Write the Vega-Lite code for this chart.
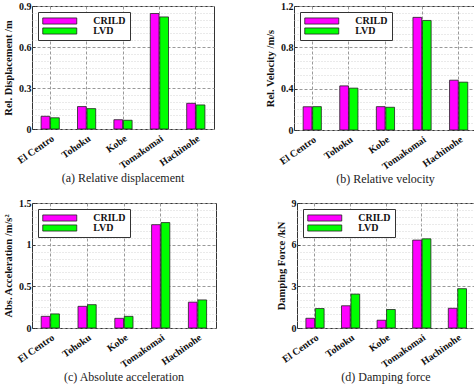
{
  "$schema": "https://vega.github.io/schema/vega-lite/v6.json",
  "padding": {"left": 3, "top": 0, "right": 0, "bottom": 0},
  "datasets": {
    "d": [
      {"panel": "a", "quake": "El Centro", "type": "CRILD", "value": 0.093},
      {"panel": "a", "quake": "El Centro", "type": "LVD", "value": 0.082},
      {"panel": "a", "quake": "Tohoku", "type": "CRILD", "value": 0.164},
      {"panel": "a", "quake": "Tohoku", "type": "LVD", "value": 0.149},
      {"panel": "a", "quake": "Kobe", "type": "CRILD", "value": 0.068},
      {"panel": "a", "quake": "Kobe", "type": "LVD", "value": 0.064},
      {"panel": "a", "quake": "Tomakomai", "type": "CRILD", "value": 0.845},
      {"panel": "a", "quake": "Tomakomai", "type": "LVD", "value": 0.82},
      {"panel": "a", "quake": "Hachinohe", "type": "CRILD", "value": 0.188},
      {"panel": "a", "quake": "Hachinohe", "type": "LVD", "value": 0.176},
      {"panel": "b", "quake": "El Centro", "type": "CRILD", "value": 0.225},
      {"panel": "b", "quake": "El Centro", "type": "LVD", "value": 0.226},
      {"panel": "b", "quake": "Tohoku", "type": "CRILD", "value": 0.427},
      {"panel": "b", "quake": "Tohoku", "type": "LVD", "value": 0.405},
      {"panel": "b", "quake": "Kobe", "type": "CRILD", "value": 0.226},
      {"panel": "b", "quake": "Kobe", "type": "LVD", "value": 0.22},
      {"panel": "b", "quake": "Tomakomai", "type": "CRILD", "value": 1.09},
      {"panel": "b", "quake": "Tomakomai", "type": "LVD", "value": 1.06},
      {"panel": "b", "quake": "Hachinohe", "type": "CRILD", "value": 0.482},
      {"panel": "b", "quake": "Hachinohe", "type": "LVD", "value": 0.463},
      {"panel": "c", "quake": "El Centro", "type": "CRILD", "value": 0.14},
      {"panel": "c", "quake": "El Centro", "type": "LVD", "value": 0.169},
      {"panel": "c", "quake": "Tohoku", "type": "CRILD", "value": 0.26},
      {"panel": "c", "quake": "Tohoku", "type": "LVD", "value": 0.28},
      {"panel": "c", "quake": "Kobe", "type": "CRILD", "value": 0.116},
      {"panel": "c", "quake": "Kobe", "type": "LVD", "value": 0.14},
      {"panel": "c", "quake": "Tomakomai", "type": "CRILD", "value": 1.24},
      {"panel": "c", "quake": "Tomakomai", "type": "LVD", "value": 1.265},
      {"panel": "c", "quake": "Hachinohe", "type": "CRILD", "value": 0.31},
      {"panel": "c", "quake": "Hachinohe", "type": "LVD", "value": 0.337},
      {"panel": "d", "quake": "El Centro", "type": "CRILD", "value": 0.7},
      {"panel": "d", "quake": "El Centro", "type": "LVD", "value": 1.4},
      {"panel": "d", "quake": "Tohoku", "type": "CRILD", "value": 1.6},
      {"panel": "d", "quake": "Tohoku", "type": "LVD", "value": 2.44},
      {"panel": "d", "quake": "Kobe", "type": "CRILD", "value": 0.56},
      {"panel": "d", "quake": "Kobe", "type": "LVD", "value": 1.33},
      {"panel": "d", "quake": "Tomakomai", "type": "CRILD", "value": 6.33},
      {"panel": "d", "quake": "Tomakomai", "type": "LVD", "value": 6.42},
      {"panel": "d", "quake": "Hachinohe", "type": "CRILD", "value": 1.42},
      {"panel": "d", "quake": "Hachinohe", "type": "LVD", "value": 2.83}
    ]
  },
  "data": {"name": "d"},
  "vconcat": [
    {
      "hconcat": [
        {
          "width": 182, "height": 123,
          "title": {"text": "(a) Relative displacement"},
          "transform": [{"filter": "datum.panel == 'a'"}],
          "mark": {"type": "bar", "stroke": "#222", "strokeWidth": 0.8},
          "encoding": {
            "x": {"field": "quake", "type": "nominal", "sort": ["El Centro", "Tohoku", "Kobe", "Tomakomai", "Hachinohe"], "scale": {"paddingInner": 0.5, "paddingOuter": 0.25}, "axis": {"title": null}},
            "xOffset": {"field": "type", "sort": ["CRILD", "LVD"], "scale": {"paddingInner": 0.08}},
            "y": {"field": "value", "type": "quantitative", "scale": {"domain": [0, 0.9], "nice": false},
              "axis": {"title": "Rel. Displacement /m",
                "values": [0, 0.05, 0.1, 0.15, 0.2, 0.25, 0.3, 0.35, 0.4, 0.45, 0.5, 0.55, 0.6, 0.65, 0.7, 0.75, 0.8, 0.85, 0.9],
                "labelExpr": "abs(datum.value/0.3 - round(datum.value/0.3)) < 0.01 ? format(datum.value, '~g') : ''",
                "gridDash": {"condition": {"test": "abs(datum.value/0.3 - round(datum.value/0.3)) < 0.01", "value": [3, 2]}, "value": [1, 2]},
                "gridColor": {"condition": {"test": "abs(datum.value/0.3 - round(datum.value/0.3)) < 0.01", "value": "#999"}, "value": "#d4d4d4"},
                "tickOpacity": {"condition": {"test": "abs(datum.value/0.3 - round(datum.value/0.3)) < 0.01", "value": 1}, "value": 0}}},
            "color": {"field": "type", "type": "nominal", "scale": {"domain": ["CRILD", "LVD"], "range": ["#ff00ff", "#00ff00"]}, "legend": {"title": null, "orient": "top-left"}}
          }
        },
        {
          "width": 183, "height": 124,
          "title": {"text": "(b) Relative velocity"},
          "transform": [{"filter": "datum.panel == 'b'"}],
          "mark": {"type": "bar", "stroke": "#222", "strokeWidth": 0.8},
          "encoding": {
            "x": {"field": "quake", "type": "nominal", "sort": ["El Centro", "Tohoku", "Kobe", "Tomakomai", "Hachinohe"], "scale": {"paddingInner": 0.5, "paddingOuter": 0.25}, "axis": {"title": null}},
            "xOffset": {"field": "type", "sort": ["CRILD", "LVD"], "scale": {"paddingInner": 0.08}},
            "y": {"field": "value", "type": "quantitative", "scale": {"domain": [0, 1.2], "nice": false},
              "axis": {"title": "Rel. Velocity /m/s",
                "values": [0, 0.0667, 0.1333, 0.2, 0.2667, 0.3333, 0.4, 0.4667, 0.5333, 0.6, 0.6667, 0.7333, 0.8, 0.8667, 0.9333, 1, 1.0667, 1.1333, 1.2],
                "labelExpr": "abs(datum.value/0.4 - round(datum.value/0.4)) < 0.01 ? format(datum.value, '~g') : ''",
                "gridDash": {"condition": {"test": "abs(datum.value/0.4 - round(datum.value/0.4)) < 0.01", "value": [3, 2]}, "value": [1, 2]},
                "gridColor": {"condition": {"test": "abs(datum.value/0.4 - round(datum.value/0.4)) < 0.01", "value": "#999"}, "value": "#d4d4d4"},
                "tickOpacity": {"condition": {"test": "abs(datum.value/0.4 - round(datum.value/0.4)) < 0.01", "value": 1}, "value": 0}}},
            "color": {"field": "type", "type": "nominal", "scale": {"domain": ["CRILD", "LVD"], "range": ["#ff00ff", "#00ff00"]}, "legend": {"title": null, "orient": "top-left"}}
          }
        }
      ],
      "spacing": 50,
      "resolve": {"scale": {"color": "independent"}, "legend": {"color": "independent"}}
    },
    {
      "hconcat": [
        {
          "width": 184, "height": 125,
          "title": {"text": "(c) Absolute acceleration"},
          "transform": [{"filter": "datum.panel == 'c'"}],
          "mark": {"type": "bar", "stroke": "#222", "strokeWidth": 0.8},
          "encoding": {
            "x": {"field": "quake", "type": "nominal", "sort": ["El Centro", "Tohoku", "Kobe", "Tomakomai", "Hachinohe"], "scale": {"paddingInner": 0.5, "paddingOuter": 0.25}, "axis": {"title": null}},
            "xOffset": {"field": "type", "sort": ["CRILD", "LVD"], "scale": {"paddingInner": 0.08}},
            "y": {"field": "value", "type": "quantitative", "scale": {"domain": [0, 1.5], "nice": false},
              "axis": {"title": "Abs. Acceleration /m/s²",
                "values": [0, 0.0833, 0.1667, 0.25, 0.3333, 0.4167, 0.5, 0.5833, 0.6667, 0.75, 0.8333, 0.9167, 1, 1.0833, 1.1667, 1.25, 1.3333, 1.4167, 1.5],
                "labelExpr": "abs(datum.value/0.5 - round(datum.value/0.5)) < 0.01 ? format(datum.value, '~g') : ''",
                "gridDash": {"condition": {"test": "abs(datum.value/0.5 - round(datum.value/0.5)) < 0.01", "value": [3, 2]}, "value": [1, 2]},
                "gridColor": {"condition": {"test": "abs(datum.value/0.5 - round(datum.value/0.5)) < 0.01", "value": "#999"}, "value": "#d4d4d4"},
                "tickOpacity": {"condition": {"test": "abs(datum.value/0.5 - round(datum.value/0.5)) < 0.01", "value": 1}, "value": 0}}},
            "color": {"field": "type", "type": "nominal", "scale": {"domain": ["CRILD", "LVD"], "range": ["#ff00ff", "#00ff00"]}, "legend": {"title": null, "orient": "top-left"}}
          }
        },
        {
          "width": 178, "height": 125,
          "title": {"text": "(d) Damping force"},
          "transform": [{"filter": "datum.panel == 'd'"}],
          "mark": {"type": "bar", "stroke": "#222", "strokeWidth": 0.8},
          "encoding": {
            "x": {"field": "quake", "type": "nominal", "sort": ["El Centro", "Tohoku", "Kobe", "Tomakomai", "Hachinohe"], "scale": {"paddingInner": 0.5, "paddingOuter": 0.25}, "axis": {"title": null}},
            "xOffset": {"field": "type", "sort": ["CRILD", "LVD"], "scale": {"paddingInner": 0.08}},
            "y": {"field": "value", "type": "quantitative", "scale": {"domain": [0, 9], "nice": false},
              "axis": {"title": "Damping Force /kN",
                "values": [0, 0.5, 1, 1.5, 2, 2.5, 3, 3.5, 4, 4.5, 5, 5.5, 6, 6.5, 7, 7.5, 8, 8.5, 9],
                "labelExpr": "abs(datum.value/3 - round(datum.value/3)) < 0.01 ? format(datum.value, '~g') : ''",
                "gridDash": {"condition": {"test": "abs(datum.value/3 - round(datum.value/3)) < 0.01", "value": [3, 2]}, "value": [1, 2]},
                "gridColor": {"condition": {"test": "abs(datum.value/3 - round(datum.value/3)) < 0.01", "value": "#999"}, "value": "#d4d4d4"},
                "tickOpacity": {"condition": {"test": "abs(datum.value/3 - round(datum.value/3)) < 0.01", "value": 1}, "value": 0}}},
            "color": {"field": "type", "type": "nominal", "scale": {"domain": ["CRILD", "LVD"], "range": ["#ff00ff", "#00ff00"]}, "legend": {"title": null, "orient": "top-left"}}
          }
        }
      ],
      "spacing": 58,
      "resolve": {"scale": {"color": "independent"}, "legend": {"color": "independent"}}
    }
  ],
  "spacing": 11,
  "resolve": {"scale": {"color": "independent"}, "legend": {"color": "independent"}},
  "config": {
    "font": "'Liberation Serif', 'Times New Roman', serif",
    "view": {"stroke": "#333", "strokeWidth": 1},
    "axis": {
      "labelFont": "'Liberation Serif', 'Times New Roman', serif", "labelFontWeight": "bold", "labelFontSize": 10, "labelColor": "#111",
      "titleFont": "'Liberation Serif', 'Times New Roman', serif", "titleFontWeight": "bold", "titleFontSize": 10.5, "titleColor": "#111",
      "domain": false, "tickColor": "#333", "tickSize": -3, "labelPadding": 4, "titlePadding": 5
    },
    "axisX": {"labelAngle": -35, "grid": true, "gridDash": [3, 2], "gridColor": "#999", "bandPosition": 0.5, "ticks": false, "labelPadding": 4},
    "axisY": {"labelOverlap": false, "labelFlush": false, "grid": true},
    "legend": {
      "labelFont": "'Liberation Serif', 'Times New Roman', serif", "labelFontWeight": "bold", "labelFontSize": 10, "labelColor": "#111",
      "symbolType": "M-4,-0.72H4V0.72H-4Z", "symbolSize": 72.25, "symbolOffset": 12.75, "labelOffset": 28.5,
      "symbolStrokeColor": "#222", "symbolStrokeWidth": 0.8,
      "strokeColor": "#333", "fillColor": "white", "padding": 4, "offset": 6, "rowPadding": 0, "cornerRadius": 0
    },
    "title": {"font": "'Liberation Serif', 'Times New Roman', serif", "fontSize": 12, "fontWeight": "normal", "color": "#222", "orient": "bottom", "anchor": "middle", "offset": 3}
  }
}
